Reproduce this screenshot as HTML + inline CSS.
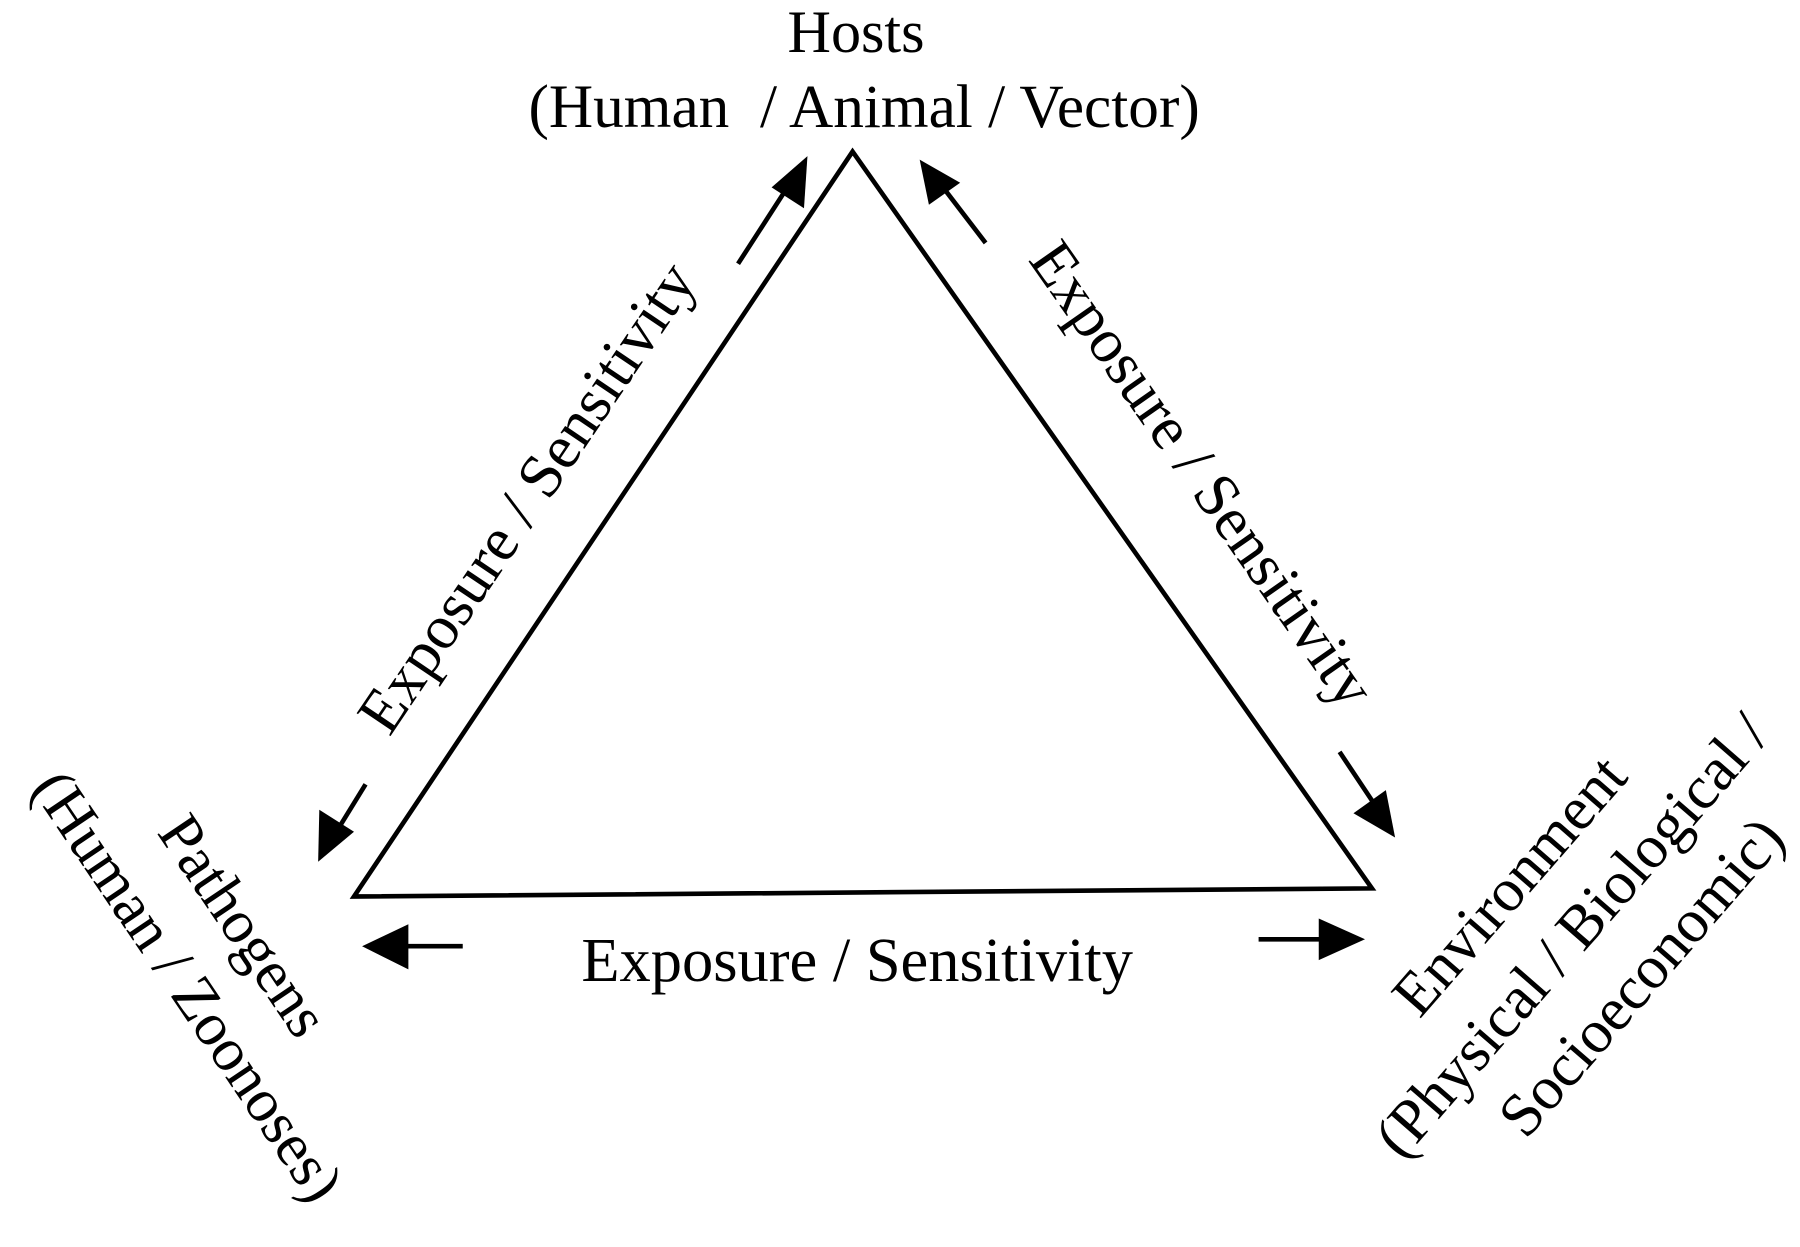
<!DOCTYPE html>
<html><head><style>html,body{margin:0;padding:0;background:#fff}svg{display:block}</style></head>
<body>
<svg width="1800" height="1247" viewBox="0 0 1556 1078" xmlns="http://www.w3.org/2000/svg" font-family="Liberation Serif, serif" fill="#000">
<polygon points="737,131 306,775 1186,768" fill="none" stroke="#000" stroke-width="4" stroke-linejoin="miter"/>
<text x="740" y="45" font-size="52" text-anchor="middle">Hosts</text>
<text x="747" y="110" font-size="53" text-anchor="middle" xml:space="preserve">(Human  / Animal / Vector)</text>
<g stroke="#000" stroke-width="4">
<line x1="638" y1="228" x2="680" y2="163"/>
<line x1="316" y1="678" x2="292" y2="717"/>
<line x1="852" y1="210" x2="816" y2="163"/>
<line x1="1158" y1="650" x2="1186" y2="692"/>
<line x1="400" y1="818" x2="345" y2="818"/>
<line x1="1088" y1="812" x2="1148" y2="812"/>
</g>
<path d="M698,135 L695,180 L667,162 Z"/>
<path d="M275,745 L276,700 L306,719 Z"/>
<path d="M795,138 L830,158 L803,177 Z"/>
<path d="M1206,724 L1170,703 L1198,683 Z"/>
<path d="M313,818 L353,799 L353,838 Z"/>
<path d="M1180,812 L1140,794 L1140,830 Z"/>
<text font-size="54" text-anchor="middle" transform="translate(470,440) rotate(-56)">Exposure / Sensitivity</text>
<text font-size="54" text-anchor="middle" transform="translate(1025,420) rotate(55)">Exposure / Sensitivity</text>
<text x="741" y="848" font-size="54" text-anchor="middle">Exposure / Sensitivity</text>
<text font-size="53" text-anchor="middle" transform="translate(196,810) rotate(56)">Pathogens</text>
<text font-size="53" text-anchor="middle" transform="translate(148,862) rotate(56)">(Human / Zoonoses)</text>
<text font-size="53" text-anchor="middle" transform="translate(1318,777) rotate(-49)">Environment</text>
<text font-size="53" text-anchor="middle" transform="translate(1372,820) rotate(-49)">(Physical / Biological /</text>
<text font-size="53" text-anchor="middle" transform="translate(1432,856) rotate(-49)">Socioeconomic)</text>
</svg>
</body></html>
